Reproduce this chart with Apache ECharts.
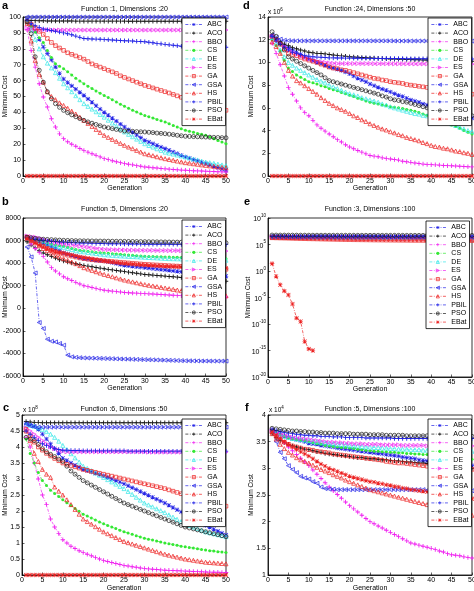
<!DOCTYPE html>
<html><head><meta charset="utf-8">
<script src="https://cdn.jsdelivr.net/npm/echarts@6/dist/echarts.min.js"></script>
<style>html,body{margin:0;padding:0;background:#fff}#c{width:474px;height:591px}</style>
</head><body><div id="c"></div>
<script>
const generations = [1,2,3,4,5,6,7,8,9,10,11,12,13,14,15,16,17,18,19,20,21,22,23,24,25,26,27,28,29,30,31,32,33,34,35,36,37,38,39,40,41,42,43,44,45,46,47,48,49,50];
const algorithms = ['ABC','ACO','BBO','CS','DE','ES','GA','GSA','HS','PBIL','PSO','EBat'];
const panelTitles = ['Function :1, Dimensions :20','Function :24, Dimensions :50','Function :5, Dimensions :20','Function :3, Dimensions :100','Function :6, Dimensions :50','Function :5, Dimensions :100'];
const panelLetters = ['a','d','b','e','c','f'];
const xTicks = {min:0,max:50,interval:5};
const yTicksA = {min:0,max:100,interval:10};
const yTicksD = {min:0,max:14,interval:2};
const yTicksB = {min:-6000,max:8000,interval:2000};
const yTicksE = {min:1e-20,max:1e10};
const yTicksC = {min:0,max:5,interval:0.5};
const yTicksF = {min:1,max:4,interval:0.5};
const exponentD = 6, exponentC = 8, exponentF = 4;

// ---- Panel a : Function 1, Dim 20 ----
const a_ABC=[98,95,91,86,81,77,73,68.5,64.5,61,58.8,56.7,54.6,52.6,50.7,48.5,46.4,44.2,42.1,40,38.2,36.3,34.5,32.6,30.8,29.1,27.4,25.8,24.1,22.4,21.4,20.3,19.3,18.2,17.2,16.2,15.1,14.1,13,12,11.2,10.3,9.5,8.6,7.8,7,6.1,5.3,4.4,3.6];
const a_ACO=[98,97.8,97.7,97.6,97.6,97.5,97.5,97.5,97.5,97.5,97.5,97.5,97.4,97.4,97.4,97.4,97.4,97.4,97.4,97.4,97.4,97.4,97.4,97.4,97.4,97.3,97.3,97.3,97.3,97.3,97.3,97.3,97.3,97.3,97.3,97.3,97.3,97.3,97.3,97.3,97.3,97.3,97.3,97.3,97.3,97.3,97.3,97.3,97.3,97.3];
const a_BBO=[92,79,68.5,58,49.7,43.4,36,30.8,26.5,23.5,21.5,20,18.7,17.3,16.1,15,14,13,12,10.9,10.3,9.6,9,8.4,7.8,7.4,7,6.5,6.1,5.7,5.5,5.2,5,4.7,4.5,4.3,4.1,3.9,3.7,3.6,3.4,3.3,3.2,3.1,3,2.9,2.8,2.7,2.6,2.5];
const a_CS=[97,94,90.5,87,84,79,74.5,70.6,69,67.5,65.5,63.5,61.5,59.8,58,56.5,55,53.5,52,50.7,49.3,48,46.6,45.2,43.8,42.6,41.4,40.2,39.1,38,37.2,36.4,35.6,34.8,34,32.9,31.8,30.8,29.7,28.7,28.1,27.5,26.8,26.2,25.6,24.5,23.5,22.4,21.4,20.3];
const a_DE=[97,92,86,80,75,71,68,65,61.5,58,55.5,53,50.5,48,45.5,43.8,42.1,40.4,38.7,37,35.1,33.3,31.4,29.6,27.7,26.2,24.7,23.2,21.8,20.3,19.2,18.2,17.1,16.1,15,14.4,13.8,13.2,12.6,12,11.4,10.7,10.1,9.4,8.8,8.4,8,7.5,7,6.5];
const a_ES=[93,92.5,92.2,92,92,91.9,91.9,91.8,91.8,91.8,91.8,91.8,91.8,91.8,91.8,91.8,91.8,91.8,91.8,91.8,91.8,91.8,91.8,91.8,91.8,91.8,91.8,91.8,91.8,91.8,91.8,91.8,91.8,91.8,91.8,91.8,91.8,91.8,91.8,91.8,91.8,91.8,91.8,91.8,91.8,91.8,91.8,91.8,91.8,91.8];
const a_GA=[97,95.5,93,91,89,86.5,84,82,80.5,79,77.5,76.5,75.5,74.5,73.5,72,70.5,69.5,68.5,67.5,66.5,65.5,64.5,63,62,61,60,59,58,57,56.2,55.4,54.6,53.8,53,52.2,51.3,50.4,49.5,48.6,48.2,47.8,47.4,47,46.6,45.5,44.5,43.5,42.5,41.3];
const a_GSA=[100,100,100,100,100,100,100,100,100,100,100,100,100,100,100,100,100,100,100,100,100,100,100,100,100,100,100,100,100,100,100,100,100,100,100,100,100,100,100,100,100,100,100,100,100,100,100,100,100,100];
const a_HS=[96,85,72.7,64,59,53,50,48,46,44.4,42.6,40.8,39,37,35,33.1,31.2,29.3,27.4,25.6,24.3,23,21.8,20.5,19.3,18.2,17.2,16.1,15.1,14,13.4,12.8,12.1,11.5,10.9,10.4,9.9,9.4,8.9,8.4,8.1,7.7,7.4,7,6.7,6.4,6.1,5.8,5.5,5.2];
const a_PBIL=[98,96,94.5,93.5,92.5,92,91.5,91,90.5,90,89.5,88.8,88,87.2,86.5,86.3,86.2,86.1,86,85.8,85.7,85.5,85.4,85.2,85.1,85,84.9,84.7,84.6,84.4,84.1,83.8,83.4,83.1,82.8,82.5,82.2,81.9,81.6,81.3,81.2,81.2,81.1,81.1,81.1,81,81,81,81,81];
const a_PSO=[97,89.5,75,66.5,59,53,48.6,45.5,43.2,41.3,39.8,38.5,37.3,36.1,35,34,33.2,32.4,31.6,30.8,30.3,29.8,29.3,28.8,28.3,28.2,28.1,27.9,27.8,27.7,27.5,27.3,27,26.8,26.6,26.3,26,25.6,25.3,25,24.9,24.8,24.7,24.6,24.5,24.4,24.3,24.2,24.1,24];
const a_EBat=[0,0,0,0,0,0,0,0,0,0,0,0,0,0,0,0,0,0,0,0,0,0,0,0,0,0,0,0,0,0,0,0,0,0,0,0,0,0,0,0,0,0,0,0,0,0,0,0,0,0];

// ---- Panel d : Function 24, Dim 50 (x 10^6) ----
const d_ABC=[12.3,12,11.7,11.5,11.3,11.1,10.9,10.7,10.5,10.3,10.15,10,9.9,9.75,9.6,9.5,9.4,9.3,9.15,9,8.8,8.6,8.45,8.3,8.1,7.95,7.8,7.65,7.55,7.4,7.25,7.1,7,6.85,6.7,6.6,6.5,6.35,6.25,6.1,6,5.85,5.75,5.6,5.5,5.4,5.35,5.25,5.2,5.1];
const d_ACO=[12.3,12,11.8,11.6,11.5,11.3,11.2,11.1,11,10.9,10.85,10.8,10.78,10.75,10.7,10.65,10.62,10.58,10.55,10.5,10.48,10.46,10.44,10.42,10.4,10.38,10.36,10.34,10.32,10.3,10.29,10.28,10.27,10.26,10.25,10.24,10.23,10.22,10.21,10.2,10.19,10.18,10.17,10.16,10.15,10.14,10.13,10.12,10.11,10.1];
const d_BBO=[11.7,10.8,9.8,8.8,7.8,7.2,6.6,6,5.6,5.3,4.9,4.5,4.2,3.95,3.7,3.45,3.2,3,2.75,2.55,2.4,2.25,2.1,1.95,1.8,1.75,1.7,1.6,1.55,1.5,1.45,1.4,1.3,1.25,1.2,1.15,1.1,1.05,1.02,1,0.98,0.96,0.93,0.91,0.9,0.88,0.86,0.84,0.82,0.8];
const d_CS=[12,11.5,11,10.2,9.5,9.2,8.9,8.7,8.5,8.3,8.2,8.1,7.95,7.85,7.7,7.6,7.5,7.35,7.25,7.1,7,6.85,6.75,6.6,6.5,6.4,6.35,6.25,6.2,6.1,6.05,6,5.95,5.85,5.8,5.7,5.6,5.45,5.35,5.2,5.05,4.9,4.75,4.65,4.5,4.35,4.2,4,3.85,3.7];
const d_DE=[12.2,11.7,11.1,10.5,10,9.75,9.5,9.3,9.1,8.9,8.7,8.5,8.35,8.2,8,7.85,7.7,7.55,7.4,7.25,7.15,7.05,6.9,6.8,6.7,6.6,6.5,6.35,6.25,6.1,6,5.9,5.8,5.7,5.6,5.5,5.45,5.35,5.3,5.2,5.05,4.95,4.85,4.7,4.6,4.45,4.3,4.15,4,3.9];
const d_ES=[12.3,12,11.7,11.4,11.1,10.9,10.7,10.5,10.4,10.3,10.2,10.1,10.05,10,9.95,9.92,9.9,9.9,9.9,9.9,9.9,9.9,9.9,9.9,9.9,9.89,9.89,9.89,9.89,9.89,9.88,9.88,9.88,9.88,9.88,9.87,9.87,9.87,9.87,9.87,9.86,9.86,9.86,9.86,9.86,9.85,9.85,9.85,9.85,9.85];
const d_GA=[12.3,12,11.6,11.2,10.8,10.7,10.6,10.45,10.3,10.2,10.1,10,9.85,9.75,9.6,9.5,9.45,9.35,9.3,9.2,9.1,9,8.9,8.8,8.7,8.6,8.55,8.45,8.4,8.3,8.25,8.2,8.15,8.05,8,7.95,7.9,7.85,7.8,7.8,7.75,7.7,7.6,7.55,7.5,7.45,7.4,7.3,7.25,7.2];
const d_GSA=[12.4,12.2,12.05,11.95,11.92,11.9,11.9,11.9,11.9,11.9,11.9,11.9,11.9,11.9,11.9,11.9,11.9,11.9,11.9,11.9,11.9,11.9,11.9,11.9,11.9,11.9,11.9,11.9,11.9,11.9,11.89,11.89,11.89,11.89,11.89,11.89,11.89,11.89,11.89,11.89,11.88,11.88,11.88,11.88,11.88,11.88,11.88,11.88,11.88,11.88];
const d_HS=[11.8,11.4,10.8,10,9.3,8.8,8.4,8.2,7.95,7.7,7.45,7.2,6.9,6.65,6.4,6.2,6,5.85,5.7,5.5,5.3,5.15,4.95,4.8,4.6,4.45,4.3,4.15,4.05,3.9,3.8,3.65,3.55,3.4,3.3,3.2,3.1,2.95,2.85,2.7,2.6,2.55,2.45,2.4,2.3,2.2,2.15,2.05,2,1.9];
const d_PBIL=[12.3,11.9,11.6,11.3,11.1,10.9,10.8,10.7,10.6,10.55,10.5,10.47,10.45,10.43,10.4,10.4,10.39,10.39,10.38,10.38,10.37,10.37,10.36,10.36,10.36,10.35,10.35,10.35,10.35,10.35,10.34,10.34,10.34,10.33,10.33,10.33,10.32,10.32,10.32,10.32,10.31,10.31,10.31,10.31,10.3,10.3,10.3,10.3,10.3,10.3];
const d_PSO=[12.7,12.3,11.7,11.1,10.5,10.3,10.1,9.9,9.7,9.5,9.3,9.1,8.9,8.65,8.4,8.3,8.2,8.1,8,7.9,7.8,7.7,7.6,7.5,7.4,7.3,7.2,7.05,6.95,6.8,6.7,6.65,6.55,6.5,6.4,6.3,6.2,6.1,6,5.9,5.85,5.8,5.75,5.65,5.6,5.55,5.5,5.4,5.35,5.3];
const d_EBat=[0,0,0,0,0,0,0,0,0,0,0,0,0,0,0,0,0,0,0,0,0,0,0,0,0,0,0,0,0,0,0,0,0,0,0,0,0,0,0,0,0,0,0,0,0,0,0,0,0,0];

// ---- Panel b : Function 5, Dim 20 ----
const b_ABC=[6300,6200,6050,5900,5750,5600,5450,5300,5100,4900,4800,4700,4600,4500,4400,4350,4300,4250,4220,4200,4120,4040,3960,3880,3800,3760,3720,3680,3640,3600,3560,3520,3480,3440,3400,3360,3320,3280,3240,3200,3160,3120,3080,3040,3000,2960,2920,2880,2860,2840];
const b_ACO=[5900,5600,5350,5100,4900,4750,4600,4450,4300,4200,4100,4020,3950,3880,3800,3740,3680,3620,3560,3500,3450,3400,3350,3300,3250,3200,3150,3100,3050,3000,2970,2940,2910,2880,2850,2820,2790,2760,2730,2700,2670,2640,2610,2580,2550,2520,2490,2460,2430,2400];
const b_BBO=[6300,5700,5300,4950,4600,4100,3600,3300,3050,2800,2620,2460,2300,2150,2000,1920,1840,1760,1680,1600,1560,1520,1480,1440,1400,1380,1360,1340,1320,1300,1280,1260,1240,1220,1200,1180,1160,1140,1120,1100,1090,1080,1070,1060,1050,1040,1030,1020,1010,1000];
const b_CS=[6300,6200,6100,6000,5900,5800,5700,5600,5550,5500,5400,5300,5200,5150,5100,5050,5000,4950,4920,4900,4870,4840,4810,4780,4750,4720,4690,4660,4630,4600,4590,4580,4570,4560,4550,4540,4530,4520,4510,4500,4490,4480,4470,4460,4450,4440,4430,4420,4410,4400];
const b_DE=[6200,6100,6000,5900,5800,5700,5600,5500,5450,5400,5300,5200,5100,5050,5000,4950,4900,4850,4800,4750,4720,4690,4660,4640,4620,4600,4580,4560,4540,4520,4500,4480,4460,4440,4420,4400,4390,4380,4370,4360,4350,4340,4330,4320,4310,4300,4290,4280,4270,4260];
const b_ES=[6400,6350,6300,6200,6100,6000,5900,5800,5750,5700,5650,5600,5550,5500,5450,5400,5350,5300,5250,5220,5200,5190,5180,5170,5160,5150,5150,5140,5140,5130,5130,5130,5120,5120,5120,5110,5110,5110,5100,5100,5100,5100,5090,5090,5090,5080,5080,5080,5070,5070];
const b_GA=[6300,6100,5900,5700,5500,5300,5150,5000,4900,4800,4700,4620,4540,4460,4400,4350,4300,4260,4230,4200,4170,4140,4110,4080,4050,4020,3990,3960,3930,3900,3880,3860,3840,3820,3800,3780,3760,3740,3720,3700,3680,3650,3620,3590,3560,3530,3510,3490,3470,3450];
const b_GSA=[5430,4550,3130,-1260,-1790,-2740,-2920,-2980,-3120,-3270,-4150,-4300,-4350,-4380,-4400,-4410,-4420,-4430,-4440,-4450,-4460,-4470,-4480,-4490,-4500,-4510,-4520,-4530,-4540,-4550,-4560,-4570,-4580,-4590,-4600,-4610,-4620,-4630,-4640,-4650,-4655,-4660,-4665,-4670,-4672,-4675,-4677,-4680,-4680,-4680];
const b_HS=[6200,6000,5800,5550,5300,5100,4900,4700,4550,4400,4250,4100,3950,3780,3600,3480,3360,3240,3120,3000,2900,2800,2700,2600,2500,2420,2340,2260,2180,2100,2040,1980,1920,1860,1800,1740,1680,1620,1560,1500,1460,1420,1380,1340,1300,1260,1220,1180,1140,1100];
const b_PBIL=[6200,6150,6100,6050,6000,5970,5940,5910,5880,5860,5840,5820,5800,5790,5780,5770,5760,5750,5740,5730,5725,5720,5715,5710,5705,5700,5695,5690,5685,5680,5678,5676,5674,5672,5670,5668,5666,5664,5662,5660,5658,5656,5654,5652,5650,5648,5646,5644,5642,5640];
const b_PSO=[6300,6250,6200,6150,6120,6100,6080,6060,6040,6020,6010,6000,5990,5980,5975,5970,5965,5960,5955,5950,5945,5940,5935,5930,5925,5920,5915,5910,5905,5900,5895,5890,5885,5880,5875,5870,5865,5860,5855,5850,5845,5840,5835,5830,5825,5820,5815,5810,5805,5800];
const b_EBat=[6200,6000,5800,5600,5450,5300,5150,5050,4950,4900,4800,4720,4640,4560,4500,4440,4380,4320,4260,4200,4150,4100,4050,4000,3970,3940,3910,3880,3850,3820,3800,3780,3760,3740,3720,3700,3690,3680,3670,3660,3650,3640,3630,3620,3610,3600,3590,3580,3570,3560];

// ---- Panel e : Function 3, Dim 100 (log scale) ----
const e_ABC=[2.6e6,2.55e6,2.5e6,2.48e6,2.45e6,2.42e6,2.4e6,2.38e6,2.35e6,2.33e6,2.3e6,2.28e6,2.26e6,2.24e6,2.22e6,2.2e6,2.19e6,2.18e6,2.16e6,2.15e6,2.14e6,2.12e6,2.11e6,2.1e6,2.09e6,2.08e6,2.07e6,2.06e6,2.05e6,2.04e6,2.03e6,2.02e6,2.01e6,2e6,1.99e6,1.98e6,1.97e6,1.96e6,1.96e6,1.95e6,1.94e6,1.94e6,1.93e6,1.93e6,1.92e6,1.92e6,1.91e6,1.91e6,1.9e6,1.9e6];
const e_ACO=[3.1e6,3.1e6,3.08e6,3.07e6,3.06e6,3.05e6,3.04e6,3.03e6,3.02e6,3.01e6,3e6,3e6,2.99e6,2.99e6,2.98e6,2.98e6,2.97e6,2.97e6,2.96e6,2.96e6,2.95e6,2.95e6,2.95e6,2.94e6,2.94e6,2.94e6,2.93e6,2.93e6,2.93e6,2.92e6,2.92e6,2.92e6,2.92e6,2.91e6,2.91e6,2.91e6,2.91e6,2.9e6,2.9e6,2.9e6,2.9e6,2.9e6,2.9e6,2.9e6,2.9e6,2.9e6,2.9e6,2.9e6,2.9e6,2.9e6];
const e_BBO=[2.2e6,2.15e6,2.1e6,2.05e6,2e6,1.97e6,1.94e6,1.91e6,1.88e6,1.85e6,1.83e6,1.81e6,1.79e6,1.77e6,1.75e6,1.74e6,1.73e6,1.72e6,1.71e6,1.7e6,1.69e6,1.68e6,1.67e6,1.66e6,1.65e6,1.64e6,1.63e6,1.62e6,1.61e6,1.6e6,1.6e6,1.59e6,1.59e6,1.58e6,1.58e6,1.57e6,1.57e6,1.56e6,1.56e6,1.55e6,1.55e6,1.54e6,1.54e6,1.53e6,1.53e6,1.52e6,1.52e6,1.51e6,1.51e6,1.5e6];
const e_CS=[2.4e6,2.38e6,2.36e6,2.34e6,2.32e6,2.3e6,2.28e6,2.26e6,2.25e6,2.24e6,2.23e6,2.22e6,2.21e6,2.2e6,2.19e6,2.18e6,2.17e6,2.16e6,2.15e6,2.14e6,2.13e6,2.12e6,2.11e6,2.1e6,2.1e6,2.09e6,2.09e6,2.08e6,2.08e6,2.07e6,2.07e6,2.06e6,2.06e6,2.05e6,2.05e6,2.04e6,2.04e6,2.03e6,2.03e6,2.02e6,2.02e6,2.02e6,2.01e6,2.01e6,2.01e6,2e6,2e6,2e6,2e6,2e6];
const e_DE=[2.5e6,2.48e6,2.46e6,2.44e6,2.42e6,2.4e6,2.38e6,2.36e6,2.35e6,2.34e6,2.33e6,2.32e6,2.31e6,2.3e6,2.29e6,2.28e6,2.27e6,2.26e6,2.25e6,2.24e6,2.23e6,2.22e6,2.21e6,2.2e6,2.2e6,2.19e6,2.19e6,2.18e6,2.18e6,2.17e6,2.17e6,2.16e6,2.16e6,2.15e6,2.15e6,2.14e6,2.14e6,2.13e6,2.13e6,2.12e6,2.12e6,2.12e6,2.11e6,2.11e6,2.11e6,2.1e6,2.1e6,2.1e6,2.1e6,2.1e6];
const e_ES=[2.7e6,2.68e6,2.66e6,2.64e6,2.62e6,2.6e6,2.58e6,2.56e6,2.55e6,2.54e6,2.53e6,2.52e6,2.51e6,2.5e6,2.5e6,2.49e6,2.49e6,2.48e6,2.48e6,2.47e6,2.47e6,2.46e6,2.46e6,2.45e6,2.45e6,2.45e6,2.44e6,2.44e6,2.44e6,2.43e6,2.43e6,2.43e6,2.42e6,2.42e6,2.42e6,2.42e6,2.41e6,2.41e6,2.41e6,2.41e6,2.4e6,2.4e6,2.4e6,2.4e6,2.4e6,2.4e6,2.4e6,2.4e6,2.4e6,2.4e6];
const e_GA=[2.3e6,2.2e6,2.1e6,2e6,1.95e6,1.9e6,1.85e6,1.8e6,1.75e6,1.7e6,1.65e6,1.6e6,1.56e6,1.52e6,1.48e6,1.45e6,1.42e6,1.39e6,1.36e6,1.33e6,1.3e6,1.27e6,1.25e6,1.23e6,1.21e6,1.19e6,1.17e6,1.15e6,1.13e6,1.11e6,1.09e6,1.07e6,1.05e6,1.04e6,1.03e6,1.02e6,1.01e6,1e6,9.9e5,9.8e5,9.7e5,9.6e5,9.5e5,9.4e5,9.3e5,9.2e5,9.2e5,9.1e5,9.1e5,9e5];
const e_GSA=[2.9e6,2.88e6,2.86e6,2.85e6,2.84e6,2.83e6,2.82e6,2.81e6,2.8e6,2.79e6,2.78e6,2.78e6,2.77e6,2.77e6,2.76e6,2.76e6,2.75e6,2.75e6,2.75e6,2.74e6,2.74e6,2.74e6,2.73e6,2.73e6,2.73e6,2.72e6,2.72e6,2.72e6,2.72e6,2.71e6,2.71e6,2.71e6,2.71e6,2.71e6,2.7e6,2.7e6,2.7e6,2.7e6,2.7e6,2.7e6,2.7e6,2.7e6,2.7e6,2.7e6,2.7e6,2.7e6,2.7e6,2.7e6,2.7e6,2.7e6];
const e_HS=[2e6,1.9e6,1.8e6,1.72e6,1.64e6,1.56e6,1.49e6,1.42e6,1.36e6,1.3e6,1.25e6,1.2e6,1.15e6,1.1e6,1.06e6,1.02e6,9.8e5,9.5e5,9.2e5,8.9e5,8.6e5,8.4e5,8.2e5,8e5,7.8e5,7.6e5,7.5e5,7.4e5,7.2e5,7.1e5,7e5,6.9e5,6.8e5,6.7e5,6.6e5,6.5e5,6.5e5,6.4e5,6.4e5,6.3e5,6.3e5,6.2e5,6.2e5,6.1e5,6.1e5,6.1e5,6e5,6e5,6e5,6e5];
const e_PBIL=[3.3e6,3.28e6,3.26e6,3.24e6,3.22e6,3.2e6,3.19e6,3.18e6,3.17e6,3.16e6,3.15e6,3.14e6,3.13e6,3.12e6,3.11e6,3.1e6,3.1e6,3.09e6,3.09e6,3.08e6,3.08e6,3.07e6,3.07e6,3.06e6,3.06e6,3.05e6,3.05e6,3.05e6,3.04e6,3.04e6,3.04e6,3.03e6,3.03e6,3.03e6,3.02e6,3.02e6,3.02e6,3.02e6,3.01e6,3.01e6,3.01e6,3.01e6,3e6,3e6,3e6,3e6,3e6,3e6,3e6,3e6];
const e_PSO=[6e6,5.95e6,5.9e6,5.85e6,5.8e6,5.76e6,5.72e6,5.68e6,5.65e6,5.62e6,5.59e6,5.56e6,5.53e6,5.5e6,5.48e6,5.46e6,5.44e6,5.42e6,5.4e6,5.39e6,5.38e6,5.37e6,5.36e6,5.35e6,5.34e6,5.33e6,5.32e6,5.31e6,5.3e6,5.3e6,5.29e6,5.28e6,5.27e6,5.26e6,5.26e6,5.25e6,5.24e6,5.23e6,5.23e6,5.22e6,5.22e6,5.21e6,5.21e6,5.2e6,5.2e6,5.2e6,5.2e6,5.2e6,5.2e6,5.2e6];
const e_EBat=[25,0.1,2.5e-3,1.6e-4,3e-5,6e-7,1.3e-9,3e-10,5e-14,2e-15,1e-15,null,null,null,null,null,null,null,null,null,null,null,null,null,null,null,null,null,null,null,null,null,null,null,null,null,null,null,null,null,null,null,null,null,null,null,null,null,null,null];

// ---- Panel c : Function 6, Dim 50 (x 10^8) ----
const c_ABC=[4.75,4.7,4.65,4.55,4.4,4.25,4.1,3.95,3.8,3.65,3.58,3.5,3.43,3.37,3.3,3.26,3.22,3.18,3.14,3.1,3.05,3,2.95,2.9,2.85,2.79,2.73,2.67,2.61,2.55,2.49,2.43,2.37,2.31,2.25,2.18,2.11,2.04,1.97,1.9,1.83,1.76,1.69,1.62,1.55,1.49,1.43,1.37,1.31,1.25];
const c_ACO=[4.8,4.78,4.77,4.77,4.76,4.76,4.76,4.76,4.76,4.76,4.76,4.76,4.76,4.76,4.76,4.76,4.76,4.76,4.76,4.76,4.76,4.76,4.76,4.76,4.76,4.76,4.76,4.76,4.76,4.76,4.76,4.76,4.76,4.76,4.76,4.76,4.76,4.76,4.76,4.76,4.76,4.76,4.76,4.76,4.76,4.76,4.76,4.76,4.76,4.76];
const c_BBO=[4.3,4,3.5,3,2.5,2.2,1.75,1.5,1.3,1.1,1,0.9,0.83,0.76,0.7,0.65,0.6,0.55,0.5,0.45,0.42,0.39,0.36,0.33,0.3,0.28,0.26,0.24,0.22,0.2,0.19,0.18,0.17,0.16,0.15,0.145,0.14,0.135,0.13,0.12,0.115,0.11,0.105,0.1,0.095,0.09,0.088,0.085,0.082,0.08];
const c_CS=[4.25,3.8,3.5,3.2,2.95,2.8,2.65,2.55,2.45,2.35,2.26,2.17,2.08,1.99,1.9,1.84,1.78,1.72,1.66,1.6,1.55,1.5,1.45,1.4,1.35,1.31,1.27,1.23,1.19,1.15,1.12,1.09,1.06,1.03,1,0.98,0.95,0.93,0.9,0.88,0.86,0.84,0.82,0.8,0.78,0.76,0.75,0.73,0.72,0.7];
const c_DE=[4.7,4.68,4.65,4.6,4.55,4.48,4.4,4.3,4.18,4.05,3.92,3.79,3.66,3.53,3.4,3.33,3.26,3.19,3.12,3.05,2.98,2.91,2.84,2.77,2.7,2.61,2.52,2.43,2.34,2.25,2.19,2.13,2.07,2.01,1.95,1.88,1.81,1.74,1.67,1.6,1.55,1.5,1.45,1.4,1.35,1.32,1.29,1.26,1.23,1.2];
const c_ES=[4.6,4.5,4.4,4.3,4.2,4.1,4,3.95,3.9,3.87,3.85,3.85,3.85,3.85,3.85,3.85,3.85,3.85,3.85,3.85,3.85,3.85,3.85,3.85,3.85,3.85,3.85,3.85,3.85,3.85,3.84,3.84,3.84,3.84,3.84,3.84,3.84,3.84,3.84,3.84,3.84,3.84,3.84,3.84,3.84,3.84,3.84,3.84,3.84,3.84];
const c_GA=[4.55,4.35,4.15,4,3.9,3.8,3.72,3.64,3.57,3.5,3.46,3.42,3.38,3.34,3.3,3.27,3.24,3.21,3.18,3.15,3.12,3.09,3.06,3.03,3,2.97,2.94,2.91,2.88,2.85,2.82,2.79,2.76,2.73,2.7,2.66,2.62,2.58,2.54,2.5,2.47,2.44,2.41,2.38,2.35,2.31,2.27,2.23,2.19,2.15];
const c_GSA=[4.72,4.66,4.63,4.62,4.62,4.62,4.62,4.62,4.62,4.62,4.62,4.62,4.62,4.62,4.62,4.62,4.62,4.62,4.62,4.62,4.62,4.62,4.62,4.62,4.62,4.62,4.62,4.62,4.62,4.62,4.62,4.62,4.62,4.62,4.62,4.62,4.62,4.62,4.62,4.62,4.62,4.62,4.62,4.62,4.62,4.62,4.62,4.62,4.62,4.62];
const c_HS=[4.5,4.2,3.8,3.55,3.3,3.15,3.05,2.75,2.62,2.5,2.35,2.2,2.05,1.9,1.75,1.67,1.59,1.51,1.43,1.35,1.29,1.23,1.17,1.11,1.05,1.01,0.97,0.93,0.89,0.85,0.81,0.77,0.73,0.69,0.65,0.62,0.59,0.56,0.53,0.5,0.48,0.46,0.44,0.42,0.4,0.39,0.38,0.37,0.36,0.35];
const c_PBIL=[4.5,4.4,4.3,4.2,4.1,4.05,4,3.95,3.92,3.9,3.9,3.89,3.89,3.89,3.88,3.88,3.88,3.88,3.88,3.88,3.88,3.88,3.88,3.88,3.88,3.87,3.87,3.87,3.87,3.87,3.87,3.87,3.87,3.87,3.87,3.87,3.87,3.87,3.87,3.87,3.87,3.87,3.87,3.87,3.87,3.87,3.87,3.87,3.87,3.87];
const c_PSO=[4.3,4.25,4.2,4.08,3.95,3.85,3.77,3.7,3.62,3.55,3.4,3.25,3.15,3.05,2.95,2.88,2.81,2.74,2.67,2.6,2.53,2.46,2.39,2.32,2.25,2.2,2.15,2.1,2.05,2,1.95,1.9,1.85,1.8,1.75,1.7,1.65,1.6,1.55,1.5,1.47,1.44,1.41,1.38,1.35,1.32,1.29,1.26,1.23,1.2];
const c_EBat=[0,0,0,0,0,0,0,0,0,0,0,0,0,0,0,0,0,0,0,0,0,0,0,0,0,0,0,0,0,0,0,0,0,0,0,0,0,0,0,0,0,0,0,0,0,0,0,0,0,0];

// ---- Panel f : Function 5, Dim 100 (x 10^4) ----
const f_ABC=[3.72,3.68,3.64,3.6,3.58,3.56,3.54,3.52,3.5,3.47,3.46,3.45,3.43,3.42,3.41,3.4,3.38,3.37,3.36,3.35,3.34,3.33,3.32,3.31,3.3,3.29,3.28,3.27,3.26,3.25,3.24,3.23,3.21,3.2,3.19,3.18,3.16,3.15,3.14,3.12,3.11,3.1,3.1,3.09,3.08,3.08,3.07,3.06,3.06,3.05];
const f_ACO=[3.65,3.58,3.52,3.48,3.45,3.42,3.4,3.38,3.36,3.35,3.33,3.31,3.3,3.28,3.27,3.26,3.25,3.24,3.23,3.22,3.21,3.2,3.2,3.19,3.18,3.18,3.17,3.16,3.16,3.15,3.14,3.14,3.13,3.12,3.12,3.11,3.1,3.1,3.09,3.08,3.07,3.07,3.06,3.05,3.05,3.04,3.03,3.02,3.01,3];
const f_BBO=[3.72,3.65,3.58,3.48,3.4,3.33,3.26,3.19,3.12,3.05,2.97,2.89,2.81,2.73,2.65,2.58,2.51,2.44,2.37,2.3,2.24,2.18,2.12,2.06,2,1.96,1.92,1.88,1.84,1.8,1.76,1.72,1.68,1.64,1.6,1.58,1.56,1.54,1.52,1.5,1.48,1.45,1.43,1.4,1.38,1.37,1.36,1.34,1.33,1.32];
const f_CS=[3.72,3.68,3.64,3.6,3.57,3.55,3.54,3.53,3.52,3.5,3.48,3.46,3.45,3.43,3.42,3.41,3.4,3.39,3.39,3.38,3.37,3.36,3.35,3.34,3.33,3.32,3.32,3.31,3.31,3.3,3.3,3.29,3.29,3.28,3.28,3.27,3.27,3.26,3.26,3.25,3.24,3.24,3.23,3.22,3.21,3.21,3.2,3.19,3.18,3.17];
const f_DE=[3.7,3.66,3.63,3.6,3.58,3.56,3.55,3.54,3.53,3.52,3.51,3.5,3.49,3.48,3.47,3.46,3.45,3.45,3.44,3.43,3.42,3.42,3.41,3.4,3.4,3.39,3.39,3.38,3.38,3.37,3.37,3.36,3.36,3.36,3.35,3.35,3.35,3.34,3.34,3.34,3.34,3.33,3.33,3.33,3.33,3.33,3.32,3.32,3.32,3.32];
const f_ES=[3.7,3.67,3.64,3.62,3.6,3.58,3.57,3.56,3.55,3.54,3.53,3.52,3.51,3.5,3.49,3.49,3.48,3.48,3.47,3.47,3.46,3.46,3.46,3.45,3.45,3.45,3.45,3.44,3.44,3.44,3.44,3.44,3.43,3.43,3.43,3.43,3.43,3.43,3.42,3.42,3.42,3.42,3.42,3.42,3.42,3.42,3.42,3.42,3.42,3.42];
const f_GA=[3.68,3.6,3.53,3.49,3.45,3.42,3.4,3.38,3.36,3.35,3.34,3.32,3.31,3.3,3.29,3.27,3.26,3.25,3.24,3.23,3.22,3.21,3.2,3.19,3.18,3.17,3.16,3.15,3.13,3.12,3.11,3.1,3.1,3.09,3.08,3.07,3.06,3.05,3.04,3.03,3.03,3.02,3.02,3.01,3.01,3,3,2.99,2.99,2.98];
const f_GSA=[3.7,3.5,3.3,3.18,3.05,2.98,2.92,2.85,2.82,2.8,2.75,2.72,2.65,2.62,2.61,2.61,2.6,2.6,2.6,2.6,2.6,2.6,2.6,2.6,2.6,2.6,2.6,2.6,2.6,2.6,2.6,2.6,2.6,2.6,2.6,2.6,2.6,2.6,2.59,2.59,2.59,2.59,2.59,2.59,2.59,2.58,2.58,2.58,2.58,2.58];
const f_HS=[3.65,3.55,3.45,3.37,3.3,3.25,3.2,3.16,3.13,3.1,3.06,3.02,2.98,2.95,2.92,2.88,2.85,2.82,2.78,2.75,2.72,2.69,2.66,2.63,2.6,2.58,2.56,2.54,2.52,2.5,2.48,2.46,2.44,2.42,2.4,2.38,2.36,2.34,2.32,2.3,2.28,2.26,2.24,2.22,2.2,2.18,2.16,2.14,2.13,2.12];
const f_PBIL=[3.73,3.71,3.69,3.67,3.66,3.65,3.64,3.63,3.62,3.62,3.61,3.61,3.6,3.6,3.6,3.59,3.59,3.59,3.58,3.58,3.58,3.58,3.58,3.57,3.57,3.57,3.57,3.57,3.57,3.57,3.56,3.56,3.56,3.56,3.56,3.56,3.56,3.56,3.56,3.56,3.56,3.56,3.56,3.56,3.56,3.56,3.56,3.56,3.56,3.56];
const f_PSO=[3.75,3.74,3.73,3.72,3.71,3.7,3.7,3.69,3.69,3.68,3.68,3.67,3.67,3.66,3.66,3.66,3.65,3.65,3.65,3.65,3.64,3.64,3.64,3.64,3.63,3.63,3.63,3.63,3.62,3.62,3.62,3.62,3.62,3.61,3.61,3.61,3.61,3.61,3.61,3.61,3.6,3.6,3.6,3.6,3.6,3.6,3.6,3.6,3.6,3.6];
const f_EBat=[3.68,3.62,3.56,3.5,3.45,3.4,3.35,3.31,3.27,3.23,3.18,3.13,3.08,3.04,3,2.97,2.94,2.91,2.88,2.85,2.83,2.81,2.79,2.77,2.75,2.74,2.72,2.71,2.69,2.68,2.66,2.65,2.63,2.62,2.6,2.59,2.58,2.57,2.56,2.55,2.54,2.53,2.52,2.5,2.49,2.48,2.47,2.46,2.44,2.43];

const panelData = [
  {ABC:a_ABC,ACO:a_ACO,BBO:a_BBO,CS:a_CS,DE:a_DE,ES:a_ES,GA:a_GA,GSA:a_GSA,HS:a_HS,PBIL:a_PBIL,PSO:a_PSO,EBat:a_EBat},
  {ABC:d_ABC,ACO:d_ACO,BBO:d_BBO,CS:d_CS,DE:d_DE,ES:d_ES,GA:d_GA,GSA:d_GSA,HS:d_HS,PBIL:d_PBIL,PSO:d_PSO,EBat:d_EBat},
  {ABC:b_ABC,ACO:b_ACO,BBO:b_BBO,CS:b_CS,DE:b_DE,ES:b_ES,GA:b_GA,GSA:b_GSA,HS:b_HS,PBIL:b_PBIL,PSO:b_PSO,EBat:b_EBat},
  {ABC:e_ABC,ACO:e_ACO,BBO:e_BBO,CS:e_CS,DE:e_DE,ES:e_ES,GA:e_GA,GSA:e_GSA,HS:e_HS,PBIL:e_PBIL,PSO:e_PSO,EBat:e_EBat},
  {ABC:c_ABC,ACO:c_ACO,BBO:c_BBO,CS:c_CS,DE:c_DE,ES:c_ES,GA:c_GA,GSA:c_GSA,HS:c_HS,PBIL:c_PBIL,PSO:c_PSO,EBat:c_EBat},
  {ABC:f_ABC,ACO:f_ACO,BBO:f_BBO,CS:f_CS,DE:f_DE,ES:f_ES,GA:f_GA,GSA:f_GSA,HS:f_HS,PBIL:f_PBIL,PSO:f_PSO,EBat:f_EBat}
];
const yTicks = [yTicksA,yTicksD,yTicksB,yTicksE,yTicksC,yTicksF];

// ---- styles ----
const FONT = 'Liberation Sans, Arial, sans-serif';
const BLUE='#2424e6', BLACK='#1a1a1a', MAG='#f026f0', GREEN='#34e834', CYAN='#34e6e6', RED='#ec2020';
const PLUS='path://M4,0H6V4H10V6H6V10H4V6H0V4H4Z';
const AST='path://M4.3,0H5.7V4.3H10V5.7H5.7V10H4.3V5.7H0V4.3H4.3Z M1.2,0.2L9.8,8.8L8.8,9.8L0.2,1.2Z M8.8,0.2L9.8,1.2L1.2,9.8L0.2,8.8Z';
const TRI_R='path://M0,0L10,5L0,10Z';
const TRI_L='path://M10,0L0,5L10,10Z';
const styleOf = {
  ABC:{c:BLUE,s:AST,fill:true,size:4.5},
  ACO:{c:BLACK,s:PLUS,fill:true,size:4.5},
  BBO:{c:MAG,s:PLUS,fill:true,size:4.5},
  CS:{c:GREEN,s:'circle',fill:true,size:3},
  DE:{c:CYAN,s:'triangle',fill:false,size:4},
  ES:{c:MAG,s:TRI_R,fill:false,size:4},
  GA:{c:RED,s:'rect',fill:false,size:3.6},
  GSA:{c:BLUE,s:TRI_L,fill:false,size:4},
  HS:{c:RED,s:'triangle',fill:false,size:4},
  PBIL:{c:BLUE,s:PLUS,fill:true,size:4.5},
  PSO:{c:BLACK,s:'circle',fill:false,size:4},
  EBat:{c:RED,s:AST,fill:true,size:4.5}
};
const itemStyleFor = st => st.fill ? {color:st.c,borderWidth:0,opacity:1}
                                   : {color:'rgba(255,255,255,0)',borderColor:st.c,borderWidth:0.7,opacity:1};

const grids = [
  {left:23,top:17,width:203,height:159},
  {left:268,top:17,width:204,height:159},
  {left:23,top:218,width:203,height:158},
  {left:268,top:218,width:204,height:159},
  {left:22,top:415,width:204,height:160},
  {left:268,top:415,width:204,height:160}
];
const legendPos = [[182,18],[428,18],[182,220],[426,221],[182,419],[428,419]];
const titlePos = [[124.5,6],[370,6],[124.5,206],[370,206],[124,406],[370,406]];
const yNameGap = [14.5,13,14.5,16,13.7,13.7];
const xNameGap = [9,9,9,9,10,10];

const option = {
  animation:false,
  textStyle:{fontFamily:FONT,color:'#000'},
  title: panelTitles.map((t,i)=>({text:t,left:titlePos[i][0],top:titlePos[i][1],textAlign:'center',padding:0,
    textStyle:{fontSize:7,fontWeight:'normal',color:'#000',fontFamily:FONT}})),
  grid: grids.map(g=>Object.assign({show:true,borderColor:'#000',borderWidth:0.8,backgroundColor:'#fff',containLabel:false,outerBoundsMode:'none'},g)),
  legend: legendPos.map((p,i)=>({
    orient:'vertical',left:p[0],top:p[1],itemWidth:17,itemHeight:4,itemGap:1.6,padding:[3,3,3,3],
    borderColor:'#000',borderWidth:0.8,backgroundColor:'#fff',selectedMode:false,
    textStyle:{fontSize:7,color:'#000',fontFamily:FONT,lineHeight:7},
    data: algorithms.map(n=>({name:n,itemStyle:itemStyleFor(styleOf[n]),
      lineStyle:{color:styleOf[n].c,width:0.7,type:[3,1.5,0.8,1.5]}}))
  })),
  xAxis: grids.map((g,i)=>({
    type:'value',gridIndex:i,min:xTicks.min,max:xTicks.max,interval:xTicks.interval,
    name:'Generation',nameLocation:'middle',nameGap:xNameGap[i],nameMoveOverlap:false,
    nameTextStyle:{fontSize:7,color:'#000',fontFamily:FONT},
    axisLine:{show:true,onZero:false,lineStyle:{color:'#000',width:0.8}},
    axisTick:{show:true,inside:true,length:2.5,lineStyle:{color:'#000',width:0.6}},
    axisLabel:{fontSize:7,color:'#000',margin:2,fontFamily:FONT,formatter:v=>String(v)},
    splitLine:{show:false}
  })),
  yAxis: grids.map((g,i)=>{
    const t = yTicks[i];
    const ax = {
      gridIndex:i,min:t.min,max:t.max,
      name:'Minimum Cost',nameLocation:'middle',nameGap:yNameGap[i],nameRotate:90,nameMoveOverlap:false,
      nameTextStyle:{fontSize:6.5,color:'#000',fontFamily:FONT},
      axisLine:{show:true,onZero:false,lineStyle:{color:'#000',width:0.8}},
      axisTick:{show:true,inside:true,length:2.5,lineStyle:{color:'#000',width:0.6}},
      axisLabel:{fontSize:7,color:'#000',margin:2,fontFamily:FONT,formatter:v=>String(v)},
      splitLine:{show:false}
    };
    if (i===3){
      ax.type='log'; ax.logBase=100000; ax.splitNumber=6;
      ax.axisLabel.formatter = v => '{b|10}{s|'+Math.round(Math.log10(v))+'}';
      ax.axisLabel.rich = {b:{fontSize:7,color:'#000',verticalAlign:'bottom',lineHeight:10,fontFamily:FONT},
                           s:{fontSize:4.5,color:'#000',verticalAlign:'top',lineHeight:10,fontFamily:FONT}};
    } else {
      ax.type='value'; ax.interval=t.interval;
    }
    return ax;
  }),
  graphic: [].concat(
    panelLetters.map((L,i)=>({type:'text',left:[2,243,2,244,3,245][i],top:[0,0,196,196,402,402][i],
      style:{text:L,fontSize:11,fontWeight:'bold',fontFamily:FONT,fill:'#000'}})),
    [[1,exponentD,268,7],[4,exponentC,23,405],[5,exponentF,269,405]].map(q=>({type:'text',left:q[2],top:q[3],
      style:{text:'{a|x 10}{s|'+q[1]+'}',rich:{a:{fontSize:6.5,fill:'#000',verticalAlign:'bottom',lineHeight:9,fontFamily:FONT},
             s:{fontSize:4.5,fill:'#000',verticalAlign:'top',lineHeight:9,fontFamily:FONT}}}}))
  ),
  series: []
};

panelData.forEach((pd,i)=>{
  algorithms.forEach(name=>{
    const st = styleOf[name];
    const arr = pd[name];
    option.series.push({
      type:'line',name:name,xAxisIndex:i,yAxisIndex:i,
      data: generations.map((g,k)=>[g,arr[k]]),
      symbol:st.s,symbolSize:st.size,showSymbol:true,showAllSymbol:true,
      connectNulls:false,clip:false,silent:true,
      lineStyle:{color:st.c,width:0.7,type:[3,1.5,0.8,1.5]},
      itemStyle: itemStyleFor(st),
      emphasis:{disabled:true}
    });
  });
});

const chart = echarts.init(document.getElementById('c'),null,{renderer:'canvas'});
chart.setOption(option);
</script>
</body></html>
